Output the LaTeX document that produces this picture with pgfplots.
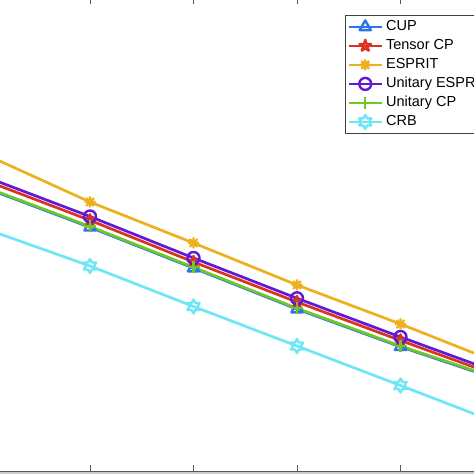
\documentclass[border=0pt]{standalone}
\usepackage{fontspec}
\setmainfont{Liberation Sans}
\usepackage{pgfplots}
\pgfplotsset{compat=1.18}

\definecolor{cCUP}{RGB}{45,115,235}
\definecolor{cTCP}{RGB}{220,50,30}
\definecolor{cESP}{RGB}{237,177,32}
\definecolor{cUES}{RGB}{95,25,215}
\definecolor{cUCP}{RGB}{110,200,40}
\definecolor{cCRB}{RGB}{110,230,245}

% matlab style markers
\newcommand\pmk[2]{\pgfqpoint{#1\pgfplotmarksize}{#2\pgfplotmarksize}}
\pgfdeclareplotmark{matstar}{%
  \pgfpathmoveto{\pmk{-1}{0}}\pgfpathlineto{\pmk{1}{0}}%
  \pgfpathmoveto{\pmk{0}{-1}}\pgfpathlineto{\pmk{0}{1}}%
  \pgfpathmoveto{\pmk{-.707}{-.707}}\pgfpathlineto{\pmk{.707}{.707}}%
  \pgfpathmoveto{\pmk{-.707}{.707}}\pgfpathlineto{\pmk{.707}{-.707}}%
  \pgfusepathqstroke}
\pgfdeclareplotmark{hexagram}{%
  \pgfpathmoveto{\pmk{0}{1}}\pgfpathlineto{\pmk{-.2887}{.5}}%
  \pgfpathlineto{\pmk{-.866}{.5}}\pgfpathlineto{\pmk{-.577}{0}}%
  \pgfpathlineto{\pmk{-.866}{-.5}}\pgfpathlineto{\pmk{-.2887}{-.5}}%
  \pgfpathlineto{\pmk{0}{-1}}\pgfpathlineto{\pmk{.2887}{-.5}}%
  \pgfpathlineto{\pmk{.866}{-.5}}\pgfpathlineto{\pmk{.577}{0}}%
  \pgfpathlineto{\pmk{.866}{.5}}\pgfpathlineto{\pmk{.2887}{.5}}%
  \pgfpathclose\pgfusepathqstroke}
\pgfdeclareplotmark{pentagram}{%
  \pgfpathmoveto{\pmk{0}{1}}\pgfpathlineto{\pmk{-.2245}{.309}}%
  \pgfpathlineto{\pmk{-.951}{.309}}\pgfpathlineto{\pmk{-.3633}{-.118}}%
  \pgfpathlineto{\pmk{-.588}{-.809}}\pgfpathlineto{\pmk{0}{-.382}}%
  \pgfpathlineto{\pmk{.588}{-.809}}\pgfpathlineto{\pmk{.3633}{-.118}}%
  \pgfpathlineto{\pmk{.951}{.309}}\pgfpathlineto{\pmk{.2245}{.309}}%
  \pgfpathclose\pgfusepathqstroke}

\begin{document}
\begin{tikzpicture}
\begin{axis}[
  x=103.5pt, y=1pt,
  xmin=1, xmax=6, ymin=3, ymax=475.5,
  axis line style={draw=black!65, line width=0.9pt},
  xtick={2,3,4,5}, xticklabel=\empty, ytick=\empty,
  tick align=inside, major tick length=6pt,
  tick style={draw=black!65, line width=0.9pt},
  axis background/.style={fill=white},
  legend style={at={(0.69275,0.96508)}, anchor=north west,
    draw=black!75, line width=0.8pt, fill=white, inner sep=2pt,
    font=\fontsize{14.5}{16}\selectfont,
    nodes={inner sep=3pt, text height=10.5pt, text depth=2.5pt},
    row sep=0pt},
  legend cell align=left,
  legend image code/.code={%
    \draw[mark repeat=2,mark phase=2,#1] plot coordinates {(0pt,0pt) (16.5pt,0pt) (33pt,0pt)};},
  every axis plot/.append style={line width=2.7pt, line join=round},
]
\addplot[cCUP, mark=triangle, mark size=6.5pt, mark options={solid, line width=2.4pt}]
  coordinates {(1,285.6) (2,246.7) (3,205.9) (4,164.9) (5,127.2) (6,92.6)};
\addlegendentry{CUP}
\addplot[cTCP, mark=pentagram, mark size=6pt, mark options={solid, line width=2.4pt}]
  coordinates {(1,293.1) (2,253.7) (3,212.0) (4,172.0) (5,133.5) (6,96.0)};
\addlegendentry{Tensor CP}
\addplot[cESP, mark=matstar, mark size=5.5pt, mark options={solid, line width=2.4pt}]
  coordinates {(1,319.0) (2,272.0) (3,231.0) (4,189.0) (5,150.0) (6,109.0)};
\addlegendentry{ESPRIT}
\addplot[cUES, mark=o, mark size=6pt, mark options={solid, line width=2.4pt}]
  coordinates {(1,296.8) (2,257.5) (3,216.0) (4,175.7) (5,137.0) (6,99.2)};
\addlegendentry{Unitary ESPRIT}
\addplot[cUCP, mark=+, mark size=6pt, mark options={solid, line width=2.4pt}]
  coordinates {(1,286.4) (2,247.5) (3,206.7) (4,165.7) (5,128.0) (6,93.4)};
\addlegendentry{Unitary CP}
\addplot[cCRB, mark=hexagram, mark size=7pt, mark options={solid, line width=2.4pt}]
  coordinates {(1,244.8) (2,208.0) (3,167.5) (4,128.0) (5,88.5) (6,48.6)};
\addlegendentry{CRB}
\coordinate (bbl) at (axis cs:1.130435,0);
\coordinate (btr) at (axis cs:5.710145,474);
\coordinate (gtr) at (axis cs:5.710145,2.4);
\end{axis}
\fill[black!20] (bbl) rectangle (gtr);
\pgfresetboundingbox
\useasboundingbox (bbl) rectangle (btr);
\end{tikzpicture}
\end{document}
